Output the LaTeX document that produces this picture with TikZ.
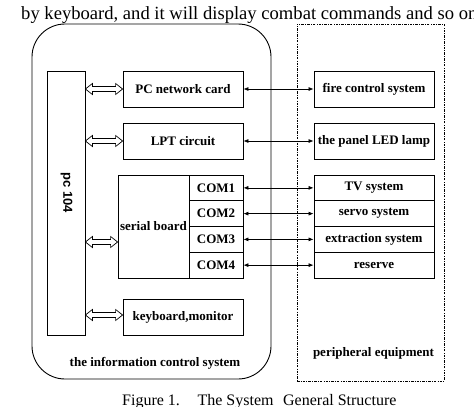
\documentclass[tikz,border=0pt]{standalone}
\usepackage{fontspec}
\setmainfont{Liberation Serif}
\newfontfamily\lsans{Liberation Sans}
\usetikzlibrary{arrows.meta,calc}
\begin{document}
\begin{tikzpicture}[x=1pt,y=-1pt,
  lbl/.style={font=\fontsize{13}{15}\selectfont\bfseries},
  box/.style={draw, line width=0.8pt, inner sep=0pt, lbl, align=center},
  wbox/.style={box, minimum width=120pt, minimum height=36pt},
  row/.style={box, minimum height=25.75pt},
  link/.style={line width=0.7pt, {Latex[length=5pt,width=4pt]}-{Latex[length=5pt,width=4pt]}},
  blk/.style={draw, line width=0.7pt, to path={
     (\tikztostart) -- ($(\tikztostart)+(7pt,-5.5pt)$) -- ($(\tikztostart)+(7pt,-2.5pt)$)
     -- ($(\tikztotarget)+(-7pt,-2.5pt)$) -- ($(\tikztotarget)+(-7pt,-5.5pt)$) -- (\tikztotarget)
     -- ($(\tikztotarget)+(-7pt,5.5pt)$) -- ($(\tikztotarget)+(-7pt,2.5pt)$)
     -- ($(\tikztostart)+(7pt,2.5pt)$) -- ($(\tikztostart)+(7pt,5.5pt)$) -- cycle}},
  dashbox/.style={draw, line width=0.6pt, dash pattern=on 2.5pt off 1.2pt on 0.8pt off 1.2pt}
]
\useasboundingbox (0,0) rectangle (474,407);
\clip (0,0) rectangle (474,407);

% top text and caption
\node[anchor=base west, inner sep=0pt, font=\fontsize{18.6}{21}\selectfont] (toptext) at (21,19)
  {by keyboard, and it will display combat commands and so on};
\node[anchor=base west, inner sep=0pt, font=\fontsize{16}{19}\selectfont] (caption) at (122,405)
  {Figure 1.\hspace{1.1em}The System\hspace{0.6em}General Structure};

% frames
\node[draw, line width=0.9pt, rounded corners=33pt, minimum width=239pt, minimum height=355pt, inner sep=0pt] (ics) at (151.5,201.5) {};
\node[dashbox, minimum width=147pt, minimum height=357pt, inner sep=0pt] (peri) at (370.5,202.5) {};
\node[lbl] (icslbl) at (155,363) {the information control system};
\node[lbl] (perilbl) at (373.5,353) {peripheral equipment};

% pc 104 bar
\node[box, minimum width=38pt, minimum height=264pt] (pc) at (66,203) {};
\node[rotate=-90, font=\lsans\fontsize{13}{15}\selectfont\bfseries] (pclbl) at (66.5,193) {pc 104};

% left cards
\node[wbox] (pnc) at (183,89) {PC network card};
\node[wbox] (lpt) at (183,141) {LPT circuit};
\node[wbox] (kbd) at (183,317) {keyboard,monitor};
\node[box, minimum width=71pt, minimum height=103pt] (ser) at (153.5,226.5) {serial board};
\node[row, minimum width=54pt] (com1) at (216,187.875) {COM1};
\node[row, minimum width=54pt] (com2) at (216,213.625) {COM2};
\node[row, minimum width=54pt] (com3) at (216,239.375) {COM3};
\node[row, minimum width=54pt] (com4) at (216,265.125) {COM4};

% right boxes
\node[wbox] (fire) at (374,89) {fire control system};
\node[wbox] (led) at (374,141) {the panel LED lamp};
\node[row, minimum width=120pt] (tv) at (374,187.875) {TV system};
\node[row, minimum width=120pt] (servo) at (374,213.625) {servo system};
\node[row, minimum width=120pt] (extr) at (374,239.375) {extraction system};
\node[row, minimum width=120pt] (res) at (374,265.125) {reserve};

% block double arrows
\coordinate (a1) at (pc.east |- pnc.west);
\coordinate (a2) at (pc.east |- lpt.west);
\coordinate (a3) at ($(pc.east |- ser.west)+(0,-15.5pt)$);
\coordinate (a3t) at (ser.west |- a3);
\coordinate (a4) at ($(pc.east |- kbd.west)+(0,2pt)$);
\coordinate (a4t) at (kbd.west |- a4);
\draw[blk] (a1) to (pnc.west);
\draw[blk] (a2) to (lpt.west);
\draw[blk] (a3) to (a3t);
\draw[blk] (a4) to (a4t);

% thin links
\draw[link] (pnc.east) -- (fire.west);
\draw[link] (lpt.east) -- (led.west);
\draw[link] (com1.east) -- (tv.west);
\draw[link] (com2.east) -- (servo.west);
\draw[link] (com3.east) -- (extr.west);
\draw[link] (com4.east) -- (res.west);
\end{tikzpicture}
\end{document}
